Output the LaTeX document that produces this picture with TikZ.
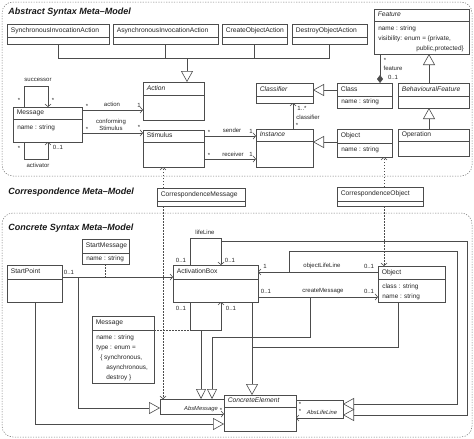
\documentclass[tikz,border=0pt]{standalone}
\usepackage{fontspec}
\setmainfont{Liberation Sans}
\usetikzlibrary{arrows.meta}
\definecolor{linec}{gray}{0.3}
\definecolor{txtc}{gray}{0.15}
\newcommand{\umlclass}[7]{%
  \node[umlbox, minimum width=#4pt, minimum height=#5pt] (#1) at (#2,#3) {};
  \draw[umlline] ([yshift=-#6pt]#1.north west) -- ([yshift=-#6pt]#1.north east);
  \node[umlname] (#1-name) at ([xshift=3.5pt,yshift=-#6pt/2]#1.north west) {#7};}
\begin{document}
\begin{tikzpicture}[x=1pt, y=-1pt, line width=0.6pt,
  umlbox/.style={draw=linec, fill=white, inner sep=0pt, outer sep=0pt, anchor=north west},
  umlline/.style={draw=linec},
  umlname/.style={anchor=west, inner sep=0pt, text=txtc, font=\fontsize{6.7}{8}\selectfont, text height=4.9pt, text depth=1.3pt},
  umlattr/.style={umlname, font=\fontsize{6.4}{8}\selectfont},
  lbl/.style={inner sep=0pt, text=txtc, font=\fontsize{6}{6.6}\selectfont},
  pkgtitle/.style={anchor=west, inner sep=0pt, text=black!90, font=\fontsize{9}{10}\selectfont\bfseries\itshape},
  pkg/.style={draw=black!55, line width=0.5pt, dash pattern=on 1.2pt off 1.4pt, rounded corners=11pt},
  assoc/.style={draw=linec, -{Straight Barb[length=2.5pt,width=6pt]}},
  gen/.style={draw=linec, -{Triangle[open,length=11pt,width=12pt]}},
  gensmall/.style={draw=linec, -{Triangle[open,length=10pt,width=10pt]}},
  comp/.style={draw=linec, {Diamond[length=8pt,width=6pt]}-},
  dep/.style={draw=linec, dash pattern=on 1.5pt off 1.5pt, -{Straight Barb[length=2.5pt,width=6pt]}},
  dotline/.style={draw=linec, dash pattern=on 1.5pt off 1.5pt}]
\useasboundingbox (0,0) rectangle (474,439);
%packages
\draw[pkg] (2,2) rectangle (472,176);
\draw[pkg] (2,213) rectangle (472,437);
\node[pkgtitle] (t-abs) at (8,12) {Abstract Syntax Meta--Model};
\node[pkgtitle] (t-cor) at (8,192) {Correspondence Meta--Model};
\node[pkgtitle] (t-con) at (8,228) {Concrete Syntax Meta--Model};
%abstract syntax
\umlclass{sia}{7}{24}{102}{20}{13}{SynchronousInvocationAction}
\umlclass{aia}{113}{24}{105}{20}{13}{AsynchronousInvocationAction}
\umlclass{coa}{222}{24}{65}{20}{13}{CreateObjectAction}
\umlclass{doa}{292}{24}{75}{20}{13}{DestroyObjectAction}
\umlclass{feature}{374}{9}{95}{45}{12}{\textit{Feature}}
\node[umlattr] (feature-a1) at (378,29) {name : string};
\node[umlattr] (feature-a2) at (378,39) {visibility: enum = \{private,};
\node[umlattr, anchor=east] (feature-a3) at (464,49) {public,protected\}};
\umlclass{action}{143}{82}{61}{38}{13}{\textit{Action}}
\umlclass{classifier}{256}{83}{57}{20}{13}{\textit{Classifier}}
\umlclass{class}{337}{83}{55}{25}{13}{Class}
\node[umlattr] (class-a1) at (341,102) {name : string};
\umlclass{bfeat}{398}{83}{71}{25}{13}{\textit{BehaviouralFeature}}
\umlclass{amsg}{13}{107}{69}{35}{12}{Message}
\node[umlattr] (amsg-a1) at (17,128) {name : string};
\umlclass{stim}{143}{130}{61}{37}{12}{Stimulus}
\umlclass{inst}{256}{129}{57}{38}{12}{\textit{Instance}}
\umlclass{aobj}{337}{129}{55}{28}{14}{Object}
\node[umlattr] (aobj-a1) at (341,150) {name : string};
\umlclass{oper}{398}{129}{71}{27}{12}{Operation}
\coordinate (gtree) at (187,58);
\draw[umlline] (sia.south) |- (gtree);
\draw[umlline] (doa.south) |- (gtree);
\draw[umlline] (aia.south) -- (aia.south |- gtree);
\draw[umlline] (coa.south) -- (coa.south |- gtree);
\draw[gen] (gtree) -- (gtree |- action.north);
\draw[assoc] ([xshift=11pt]amsg.north west) -- ++(0,-21) -| ([xshift=35pt]amsg.north west);
\node[lbl] (succ) at (38,80) {successor};
\node[lbl] (succ-m1) at (19,100) {*};
\node[lbl] (succ-m2) at (53,100) {*};
\draw[assoc] ([xshift=11pt]amsg.south west) -- ++(0,17) -| ([xshift=35pt]amsg.south west);
\node[lbl] (actv) at (38,165) {activator};
\node[lbl] (actv-m1) at (19,148) {*};
\node[lbl] (actv-m2) at (58,147) {0..1};
\coordinate (act-s) at ([yshift=-3pt]amsg.north east);
\draw[assoc] (act-s) -- (act-s -| action.west);
\node[lbl] (act-m1) at (87,106) {*};
\node[lbl] (act-r) at (112,104) {action};
\node[lbl] (act-m2) at (139,105) {1};
\coordinate (conf-s) at ([yshift=-26pt]amsg.north east);
\draw[assoc] (conf-s) -- (conf-s -| stim.west);
\node[lbl] (conf-m1) at (87,129) {*};
\node[lbl, align=center] (conf-r) at (111,125) {conforming\\Stimulus};
\node[lbl] (conf-m2) at (139,127) {*};
\coordinate (snd-s) at ([yshift=-6pt]stim.north east);
\draw[assoc] (snd-s) -- (snd-s -| inst.west);
\node[lbl] (snd-m1) at (209,132) {*};
\node[lbl] (snd-r) at (232,130) {sender};
\node[lbl] (snd-m2) at (251,131) {1};
\coordinate (rcv-s) at ([yshift=-29pt]stim.north east);
\draw[assoc] (rcv-s) -- (rcv-s -| inst.west);
\node[lbl] (rcv-m1) at (209,155) {*};
\node[lbl] (rcv-r) at (233,154) {receiver};
\node[lbl] (rcv-m2) at (251,154) {1};
\coordinate (clf-s) at ([xshift=-20pt]inst.north east);
\draw[assoc] (clf-s) -- (clf-s |- classifier.south);
\node[lbl] (clf-m1) at (302,108) {1..*};
\node[lbl] (clf-r) at (308,117) {classifier};
\node[lbl] (clf-m2) at (297,125) {*};
\coordinate (cg-s) at ([yshift=-7pt]class.north west);
\draw[gen] (cg-s) -- (cg-s -| classifier.east);
\coordinate (og-s) at ([yshift=-13pt]aobj.north west);
\draw[gen] (og-s) -- (og-s -| inst.east);
\coordinate (fc-s) at ([xshift=43pt]class.north west);
\draw[comp] (fc-s) -- (fc-s |- feature.south);
\node[lbl] (fc-m1) at (385,60) {*};
\node[lbl] (fc-r) at (393,68) {feature};
\node[lbl] (fc-m2) at (393,77) {0..1};
\coordinate (bf-s) at ([xshift=31pt]bfeat.north west);
\draw[gen] (bf-s) -- (bf-s |- feature.south);
\coordinate (op-s) at ([xshift=31pt]oper.north west);
\draw[gen] (op-s) -- (op-s |- bfeat.south);
%correspondence
\umlclass{cmsg}{157}{188}{88}{18}{13}{CorrespondenceMessage}
\umlclass{cobj}{337}{187}{86}{19}{14}{CorrespondenceObject}
%concrete syntax
\umlclass{smsg}{82}{239}{47}{25}{14}{StartMessage}
\node[umlattr] (smsg-a1) at (86,259) {name : string};
\umlclass{spoint}{7}{265}{55}{37}{14}{StartPoint}
\umlclass{abox}{173}{265}{85}{37}{14}{ActivationBox}
\umlclass{cobject}{378}{266}{67}{36}{13}{Object}
\node[umlattr] (cobject-a1) at (382,287) {class : string};
\node[umlattr] (cobject-a2) at (382,297) {name : string};
\umlclass{cmessage}{92}{316}{62}{67}{14}{Message}
\node[umlattr] (cmessage-a1) at (96,338) {name : string};
\node[umlattr] (cmessage-a2) at (96,348) {type : enum =};
\node[umlattr] (cmessage-a3) at (100,358) {\{ synchronous,};
\node[umlattr] (cmessage-a4) at (106,368) {asynchronous,};
\node[umlattr] (cmessage-a5) at (106,378) {destroy \}};
\umlclass{celem}{224}{395}{72}{36}{12}{\textit{ConcreteElement}}
%abstract associations of the concrete element
\coordinate (am-t) at ([yshift=-4pt]celem.north west);
\coordinate (am-b) at ([yshift=-19pt]celem.north west);
\draw[assoc] (am-t) -- ++(-64,0) |- (am-b);
\node[lbl, font=\fontsize{5.8}{6.5}\selectfont\itshape] (absmsg) at (201,409) {AbsMessage};
\node[lbl] (am-m) at (221,410) {*};
\coordinate (al-t) at ([yshift=-5pt]celem.north east);
\coordinate (al-b) at ([yshift=-23pt]celem.north east);
\draw[assoc] (al-t) -- ++(47,0) |- (al-b);
\node[lbl, font=\fontsize{5.8}{6.5}\selectfont\itshape] (abslife) at (322,412) {AbsLifeLine};
\node[lbl] (al-m1) at (300,404) {*};
\node[lbl] (al-m2) at (300,411) {*};
%dependencies
\coordinate (cd1) at ([xshift=6pt]cmsg.north west);
\draw[dep] (cd1) -- (cd1 |- stim.south);
\coordinate (cd2) at ([xshift=6pt]cmsg.south west);
\draw[dep] (cd2) -- (cd2 |- am-t);
\coordinate (od1) at ([xshift=47pt]cobj.north west);
\draw[dep] (od1) -- (od1 |- aobj.south);
\coordinate (od2) at ([xshift=47pt]cobj.south west);
\draw[dep] (od2) -- (od2 |- cobject.north);
%start point
\coordinate (sp-s) at ([yshift=-12pt]spoint.north east);
\draw[assoc] (sp-s) -- (sp-s -| abox.west);
\node[lbl] (sp-m) at (69,272) {0..1};
\draw[dotline] (smsg.south) -- (smsg.south |- sp-s);
\coordinate (sp-g) at (78,277);
\coordinate (am-l) at (160,408);
\draw[gen] (sp-g) |- (am-l);
\draw[gen] ([xshift=28pt]spoint.south west) |- ([yshift=-29pt]celem.north west);
%life lines
\draw[assoc] ([xshift=17pt]abox.north west) -- ++(0,-27) -| ([xshift=48pt]abox.north west);
\node[lbl] (ll-r) at (205,232) {lifeLine};
\node[lbl] (ll-m1) at (181,260) {0..1};
\node[lbl] (ll-m2) at (230,260) {0..1};
\coordinate (ll-g) at (221,241);
\coordinate (al-r2) at (343,415);
\draw[gen] (ll-g) -- (467,241) |- (al-r2);
\coordinate (ol-s) at ([yshift=-6pt]cobject.north west);
\draw[assoc] (ol-s) -- (ol-s -| abox.east);
\node[lbl] (ol-m1) at (265,266) {1};
\node[lbl] (ol-r) at (322,266) {objectLifeLine};
\node[lbl] (ol-m2) at (369,266) {0..1};
\coordinate (ol-g) at (289,272);
\coordinate (al-r1) at (343,404);
\draw[gen] (ol-g) -- (289,251) -- (457,251) |- (al-r1);
%messages
\coordinate (cm-s) at ([yshift=-32pt]abox.north east);
\draw[assoc] (cm-s) -- (cm-s -| cobject.west);
\node[lbl] (cm-m1) at (266,291) {0..1};
\node[lbl] (cm-r) at (323,291) {createMessage};
\node[lbl] (cm-m2) at (369,291) {0..1};
\coordinate (cm-g) at (310,297);
\coordinate (cm-j) at (212,337);
\draw[gensmall] (cm-g) |- (cm-j) -- (cm-j |- am-t);
\draw[assoc] ([xshift=17pt]abox.south west) -- ++(0,28) -| ([xshift=48pt]abox.south west);
\node[lbl] (ms-m1) at (181,308) {0..1};
\node[lbl] (ms-m2) at (231,308) {0..1};
\coordinate (ms-g) at (201,330);
\draw[gensmall] (ms-g) -- (ms-g |- am-t);
\draw[dotline] ([yshift=-14pt]cmessage.north east) -- (190,330);
%generalisation to concrete element
\coordinate (ab-g) at ([xshift=-6pt]abox.south east);
\draw[gen] (ab-g) -- (ab-g |- celem.north);
\coordinate (obj-j) at (252,347);
\draw[umlline] ([xshift=20pt]cobject.south west) |- (obj-j);
\end{tikzpicture}
\end{document}
